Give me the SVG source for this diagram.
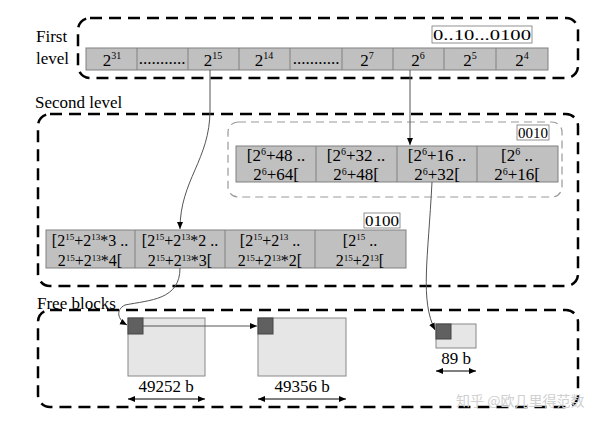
<svg xmlns="http://www.w3.org/2000/svg" width="600" height="426" viewBox="0 0 600 426">
<defs>
<marker id="ah" markerWidth="8" markerHeight="8" refX="7" refY="4" orient="auto" markerUnits="userSpaceOnUse"><path d="M0,1 L7,4 L0,7 z" fill="#000"/></marker>
<marker id="dim" markerWidth="8" markerHeight="8" refX="7" refY="4" orient="auto-start-reverse" markerUnits="userSpaceOnUse"><path d="M0,1 L7,4 L0,7 z" fill="#000"/></marker>
<style>
text{font-family:'Liberation Serif','Times New Roman','DejaVu Serif',serif;fill:#000}
.lab{font-size:17px}
.c{font-size:17px;text-anchor:middle}
.s{font-size:16px;text-anchor:middle}
.cell{fill:#c0c0c0;stroke:#808080;stroke-width:1}
.grp{fill:none;stroke:#000;stroke-width:2.5;stroke-dasharray:12,7}
.bits{fill:#fff;stroke:#777;stroke-width:0.8}
.blk{fill:#e6e6e6;stroke:#888}
.hd{fill:#606060;stroke:#444}
.con{fill:none;stroke:#555;stroke-width:1}
.wm{font-family:'Noto Sans CJK SC',sans-serif;fill:#d0d0d0}
</style>
</defs>
<g id="first-level">
<rect class="grp" x="78" y="18" width="500" height="60" rx="12"/>
<text class="lab" x="36" y="42">First</text>
<text class="lab" x="36" y="64">level</text>
<g>
<rect class="bits" x="432" y="26" width="100" height="17"/>
<text x="433" y="40" font-size="15" textLength="98" lengthAdjust="spacingAndGlyphs">0..10...0100</text>
</g>
<rect class="cell" x="86" y="48" width="462" height="22"/>
<path d="M137,48v22M188,48v22M239,48v22M290,48v22M342,48v22M393,48v22M444,48v22M496,48v22" stroke="#808080"/>
<text class="c" x="112" y="66">2<tspan font-size="10" dy="-7">31</tspan></text>
<text class="c" x="162" y="64">...........</text>
<text class="c" x="213" y="66">2<tspan font-size="10" dy="-7">15</tspan></text>
<text class="c" x="264" y="66">2<tspan font-size="10" dy="-7">14</tspan></text>
<text class="c" x="316" y="64">...........</text>
<text class="c" x="367" y="66">2<tspan font-size="10" dy="-7">7</tspan></text>
<text class="c" x="418" y="66">2<tspan font-size="10" dy="-7">6</tspan></text>
<text class="c" x="470" y="66">2<tspan font-size="10" dy="-7">5</tspan></text>
<text class="c" x="522" y="66">2<tspan font-size="10" dy="-7">4</tspan></text>
</g>
<g id="second-level">
<text class="lab" x="35" y="108">Second level</text>
<rect class="grp" x="38" y="114" width="540" height="172" rx="12"/>
<rect x="228" y="122" width="334" height="75" rx="10" fill="none" stroke="#999" stroke-width="1.2" stroke-dasharray="8,5"/>
<rect class="bits" x="517" y="125" width="32" height="15"/>
<text x="518" y="138" font-size="14" textLength="30" lengthAdjust="spacingAndGlyphs">0010</text>
<rect class="cell" x="236" y="146" width="322" height="36"/>
<path d="M316,146v36M397,146v36M477,146v36" stroke="#808080"/>
<text class="c" x="276" y="161">[2<tspan font-size="10" dy="-6">6</tspan><tspan dy="6">+48 ..</tspan></text>
<text class="c" x="276" y="180">2<tspan font-size="10" dy="-5">6</tspan><tspan dy="5">+64[</tspan></text>
<text class="c" x="356" y="161">[2<tspan font-size="10" dy="-6">6</tspan><tspan dy="6">+32 ..</tspan></text>
<text class="c" x="356" y="180">2<tspan font-size="10" dy="-5">6</tspan><tspan dy="5">+48[</tspan></text>
<text class="c" x="437" y="161">[2<tspan font-size="10" dy="-6">6</tspan><tspan dy="6">+16 ..</tspan></text>
<text class="c" x="437" y="180">2<tspan font-size="10" dy="-5">6</tspan><tspan dy="5">+32[</tspan></text>
<text class="c" x="517" y="161">[2<tspan font-size="10" dy="-6">6</tspan><tspan dy="6"> ..</tspan></text>
<text class="c" x="517" y="180">2<tspan font-size="10" dy="-5">6</tspan><tspan dy="5">+16[</tspan></text>
<rect class="bits" x="364" y="213" width="36" height="15"/>
<text x="365" y="226" font-size="14" textLength="34" lengthAdjust="spacingAndGlyphs">0100</text>
<rect class="cell" x="46" y="230" width="360" height="38"/>
<path d="M135,230v38M225,230v38M315,230v38" stroke="#808080"/>
<text class="s" x="90" y="246">[2<tspan font-size="9" dy="-6">15</tspan><tspan dy="6">+2</tspan><tspan font-size="9" dy="-6">13</tspan><tspan dy="6">*3 ..</tspan></text>
<text class="s" x="90" y="266">2<tspan font-size="9" dy="-5">15</tspan><tspan dy="5">+2</tspan><tspan font-size="9" dy="-5">13</tspan><tspan dy="5">*4[</tspan></text>
<text class="s" x="180" y="246">[2<tspan font-size="9" dy="-6">15</tspan><tspan dy="6">+2</tspan><tspan font-size="9" dy="-6">13</tspan><tspan dy="6">*2 ..</tspan></text>
<text class="s" x="180" y="266">2<tspan font-size="9" dy="-5">15</tspan><tspan dy="5">+2</tspan><tspan font-size="9" dy="-5">13</tspan><tspan dy="5">*3[</tspan></text>
<text class="s" x="270" y="246">[2<tspan font-size="9" dy="-6">15</tspan><tspan dy="6">+2</tspan><tspan font-size="9" dy="-6">13</tspan><tspan dy="6"> ..</tspan></text>
<text class="s" x="270" y="266">2<tspan font-size="9" dy="-5">15</tspan><tspan dy="5">+2</tspan><tspan font-size="9" dy="-5">13</tspan><tspan dy="5">*2[</tspan></text>
<text class="s" x="360" y="246">[2<tspan font-size="9" dy="-6">15</tspan><tspan dy="6"> ..</tspan></text>
<text class="s" x="360" y="266">2<tspan font-size="9" dy="-5">15</tspan><tspan dy="5">+2</tspan><tspan font-size="9" dy="-5">13</tspan><tspan dy="5">[</tspan></text>
</g>
<g id="free-blocks">
<text class="lab" x="37" y="309">Free blocks</text>
<rect class="grp" x="38" y="310" width="540" height="97" rx="12"/>
<g id="block1">
<rect class="blk" x="128" y="318" width="77" height="58"/>
<rect class="hd" x="128" y="318" width="15" height="16"/>
<text class="c" x="166" y="392">49252 b</text>
<line x1="128" y1="399" x2="205" y2="399" stroke="#000" marker-start="url(#dim)" marker-end="url(#dim)"/>
</g>
<g id="block2">
<rect class="blk" x="258" y="318" width="88" height="58"/>
<rect class="hd" x="258" y="318" width="15" height="16"/>
<text class="c" x="302" y="392">49356 b</text>
<line x1="258" y1="399" x2="346" y2="399" stroke="#000" marker-start="url(#dim)" marker-end="url(#dim)"/>
</g>
<g id="block3">
<rect class="blk" x="436" y="324" width="40" height="24"/>
<rect class="hd" x="436" y="324" width="15" height="15"/>
<text class="c" x="456" y="364">89 b</text>
<line x1="436" y1="371" x2="476" y2="371" stroke="#000" marker-start="url(#dim)" marker-end="url(#dim)"/>
</g>
</g>
<g id="connectors">
<path class="con" d="M210,70 L210,110 C210,160 180,180 180,229" marker-end="url(#ah)"/>
<path class="con" d="M410,70 L410,145" marker-end="url(#ah)"/>
<path class="con" d="M180,268 C180,300 150,300 125,305 C115,310 118,320 127,325" marker-end="url(#ah)"/>
<path class="con" d="M143,326 L257,326" marker-end="url(#ah)"/>
<path class="con" d="M432,182 C428,260 420,300 435,330" marker-end="url(#ah)"/>
</g>
<text class="wm" x="456" y="406" font-size="14">知乎 @欧几里得范数</text>
</svg>
